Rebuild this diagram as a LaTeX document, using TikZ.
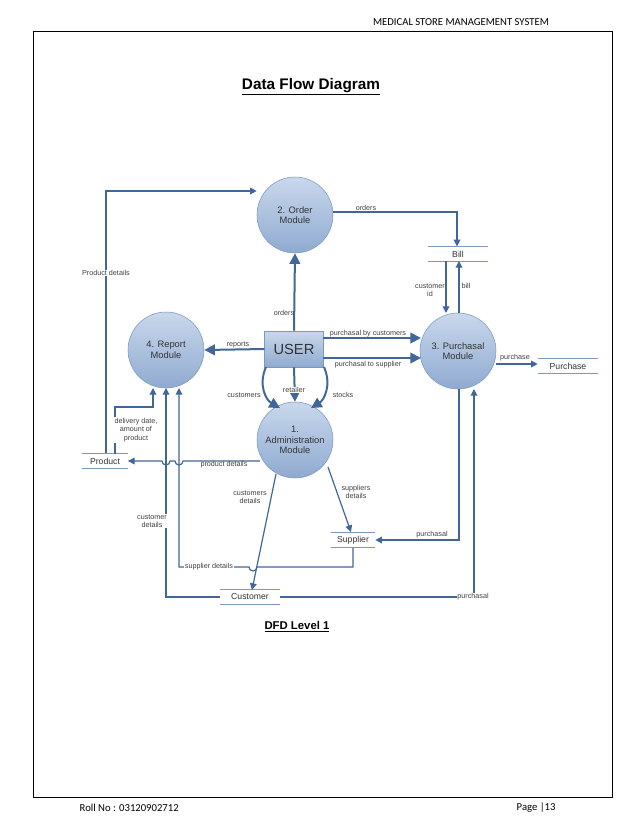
\documentclass[tikz,border=0pt]{standalone}
\usepackage{fontspec}
\setmainfont{Liberation Sans}
\newfontfamily\calfnt{Carlito}
\usetikzlibrary{arrows.meta}
\definecolor{ln}{HTML}{41679A}
\definecolor{cf1}{HTML}{C9D8EC}
\definecolor{cf2}{HTML}{8FAAD0}
\definecolor{cb}{HTML}{7C98C0}
\begin{document}
\begin{tikzpicture}[x=0.75pt,y=-0.75pt,
  proc/.style={circle,minimum size=57pt,inner sep=0pt,draw=cb,top color=cf1,bottom color=cf2,align=center,font=\fontsize{7}{8}\selectfont,text=black!80},
  store/.style={minimum width=#1,minimum height=11pt,inner sep=0pt,font=\fontsize{6.5}{7.5}\selectfont,text=black!80,
     append after command={(\tikzlastnode.north west) edge[draw=cb,thin] (\tikzlastnode.north east) (\tikzlastnode.south west) edge[draw=cb,thin] (\tikzlastnode.south east)}},
  fl/.style={draw=ln,line width=0.9pt,-{Triangle[length=5pt,width=5pt]}},
  th/.style={draw=ln,line width=1.5pt,-{Triangle[length=8pt,width=8pt]}},
  lab/.style={font=\fontsize{5.4}{6.4}\selectfont,text=black!75,align=center,inner sep=0.5pt,fill=white},
  labn/.style={font=\fontsize{5.4}{6.4}\selectfont,text=black!75,align=center,inner sep=0.5pt}]
\useasboundingbox (0,0) rectangle (638,826);
\fill[white] (0,0) rectangle (638,826);
\node[font=\calfnt\fontsize{8}{9}\selectfont] (hdr) at (461,22) {MEDICAL STORE MANAGEMENT SYSTEM};
\draw[black,line width=0.6pt] (33,31) rectangle (612,797);
\node[font=\calfnt\fontsize{8}{9}\selectfont,anchor=west] (roll) at (75,808) {Roll No : 03120902712};
\node[font=\calfnt\fontsize{8}{9}\selectfont,anchor=west] (pg) at (512,808) {Page |13};
\node[font=\bfseries\fontsize{11.5}{13}\selectfont] (title) at (311,87) {\underline{Data Flow Diagram}};
\node[font=\bfseries\fontsize{8.5}{10}\selectfont] (lvl) at (297,627) {\underline{DFD Level 1}};

\node[proc] (ord) at (295,215) {2. Order\\Module};
\node[proc] (rep) at (166,350) {4. Report\\Module};
\node[proc] (pur) at (458,351) {3. Purchasal\\Module};
\node[proc] (adm) at (295,440) {1.\\Administration\\Module};
\node[draw=cb,top color=cf1,bottom color=cf2,minimum width=44pt,minimum height=27pt,inner sep=0pt,font=\fontsize{11}{12}\selectfont,text=black!80] (user) at (294,349) {USER};
\node[store=45pt] (bill) at (458,254) {Bill};
\node[store=45pt] (purch) at (568,366) {Purchase};
\node[store=34pt] (prod) at (105,461) {Product};
\node[store=33pt] (sup) at (353,540) {Supplier};
\node[store=44pt] (cus) at (250,597) {Customer};

\coordinate (a1) at (106,191);
\draw[fl] (prod.north -| a1) -- (a1) -- (ord.west |- a1);
\node[lab] (l1) at (106,273) {Product details};
\coordinate (a2) at (333,212);
\draw[fl] (a2) -- (457,212) -- (bill.north -| 457,0);
\node[labn] (l2) at (366,208) {orders};
\draw[th] (user.north) -- (ord.south);
\node[labn] (l3) at (284,313) {orders};
\draw[th] (user.west) -- (rep.east);
\node[labn] (l4) at (238,345) {reports};
\draw[th] (323,338) -- (421,338);
\node[labn] (l5) at (368,334) {purchasal by customers};
\draw[th] (323,358) -- (421,358);
\node[labn] (l6) at (368,365) {purchasal to supplier};
\draw[th] (user.south) -- (adm.north);
\node[lab] (l7) at (294,390) {retailer};
\draw[th] (266,367) .. controls (258,385) and (266,400) .. (280,408);
\node[labn] (l8) at (244,395) {customers};
\draw[th] (324,367) .. controls (332,385) and (324,400) .. (311,408);
\node[labn] (l9) at (343,395) {stocks};
\draw[fl] (446,261) -- (446,313);
\draw[fl] (459,313) -- (459,261);
\node[labn] (l10) at (430,290) {customer\\id};
\node[labn] (l11) at (466,286) {bill};
\draw[fl] (pur.east |- 0,364) -- (purch.west |- 0,364);
\node[labn] (l12) at (515,358) {purchase};
\coordinate (a3) at (260,461);
\draw[fl] (a3) -- (183,461) arc[start angle=0,end angle=180,radius=4] -- (170,461) arc[start angle=0,end angle=180,radius=4] -- (prod.east);
\node[labn] (l13) at (224,465) {product details};
\draw[fl] (115,454) -- (115,407) -- (153,407) -- (153,388);
\node[lab] (l14) at (136,430) {delivery date,\\amount of\\product};
\draw[fl] (cus.west) -- (166,597) -- (166,388);
\node[lab] (l15) at (152,521) {customer\\details};
\draw[fl] (sup.south) -- (353,567) -- (257,567) arc[start angle=0,end angle=180,radius=4] -- (179,567) -- (179,388);
\node[lab] (l16) at (209,567) {supplier details};
\draw[fl] (276,474) -- (252,590);
\node[labn] (l17) at (250,497) {customers\\details};
\draw[fl] (328,467) -- (351,532);
\node[labn] (l18) at (356,492) {suppliers\\details};
\draw[fl] (459,389) -- (459,540) -- (sup.east);
\node[labn] (l19) at (432,535) {purchasal};
\draw[fl] (cus.east) -- (474,597) -- (474,389);
\node[lab] (l20) at (473,597) {purchasal};
\end{tikzpicture}
\end{document}
